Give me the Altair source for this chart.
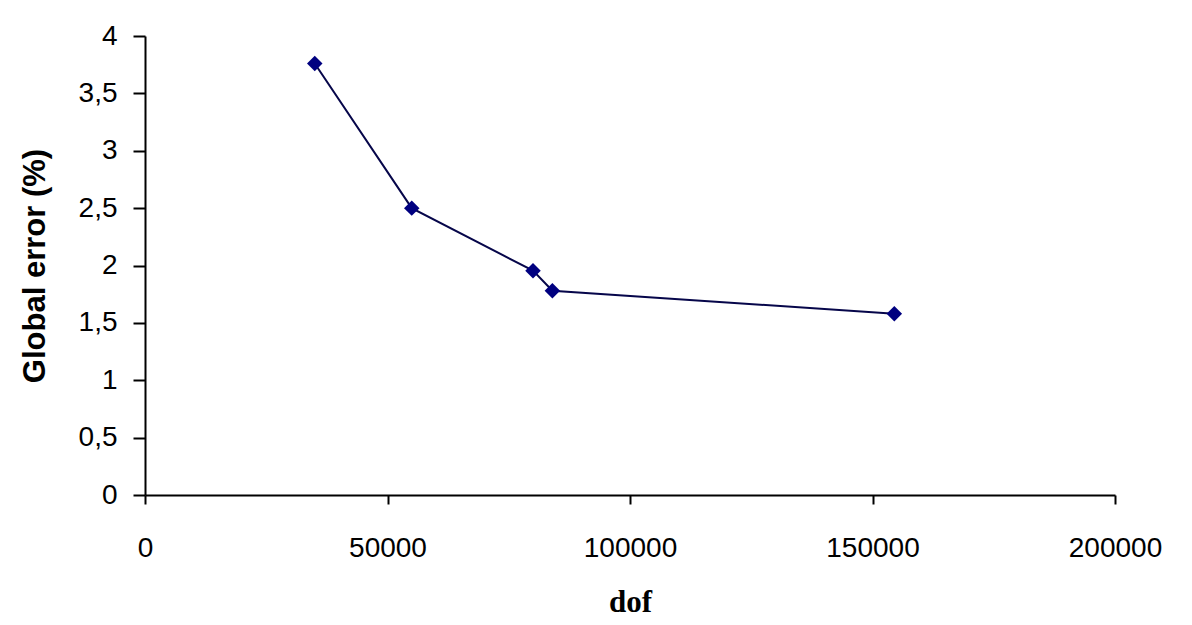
import altair as alt
import pandas as pd

dof = [35000, 55000, 80000, 84000, 154500]
global_error = [3.76, 2.50, 1.955, 1.78, 1.58]

df = pd.DataFrame({"dof": dof, "err": global_error})

x = alt.X("dof:Q", title="dof",
          scale=alt.Scale(domain=[0, 200000], nice=False, zero=True),
          axis=alt.Axis(values=[0, 50000, 100000, 150000, 200000], format="d",
                        grid=False, domainColor="black", domainWidth=2,
                        tickColor="black", tickWidth=2, tickSize=9,
                        labelFont="Liberation Sans", labelFontSize=28, labelColor="black",
                        labelPadding=30, labelFlush=False,
                        titleFont="Liberation Serif", titleFontSize=31, titleFontWeight="bold",
                        titleColor="black", titleY=107, titleBaseline="middle"))
y = alt.Y("err:Q", title="Global error (%)",
          scale=alt.Scale(domain=[0, 4], nice=False),
          axis=alt.Axis(values=[0, 0.5, 1, 1.5, 2, 2.5, 3, 3.5, 4],
                        labelExpr="replace(format(datum.value, '~g'), '.', ',')",
                        grid=False, domainColor="black", domainWidth=2,
                        tickColor="black", tickWidth=2, tickSize=12,
                        labelFont="Liberation Sans", labelFontSize=28, labelColor="black",
                        labelPadding=16, labelFlush=False,
                        titleFont="Liberation Sans", titleFontSize=31, titleFontWeight="bold",
                        titleColor="black", titleX=-110, titleY=229.5,
                        titleAngle=-90, titleBaseline="middle", titleAlign="center"))

line = alt.Chart(df).mark_line(color="#06064a", strokeWidth=2).encode(x=x, y=y)
pts = alt.Chart(df).mark_point(shape="diamond", filled=True, opacity=1,
                               color="#000080", size=240).encode(x=x, y=y)

chart = (line + pts).properties(
    width=970, height=459,
    autosize=alt.AutoSizeParams(type="none"),
    padding={"left": 137, "top": 28, "right": 69, "bottom": 122},
    background="white",
).configure_view(stroke=None)

chart.save("out.html", embed_options={"renderer": "svg", "actions": False})
